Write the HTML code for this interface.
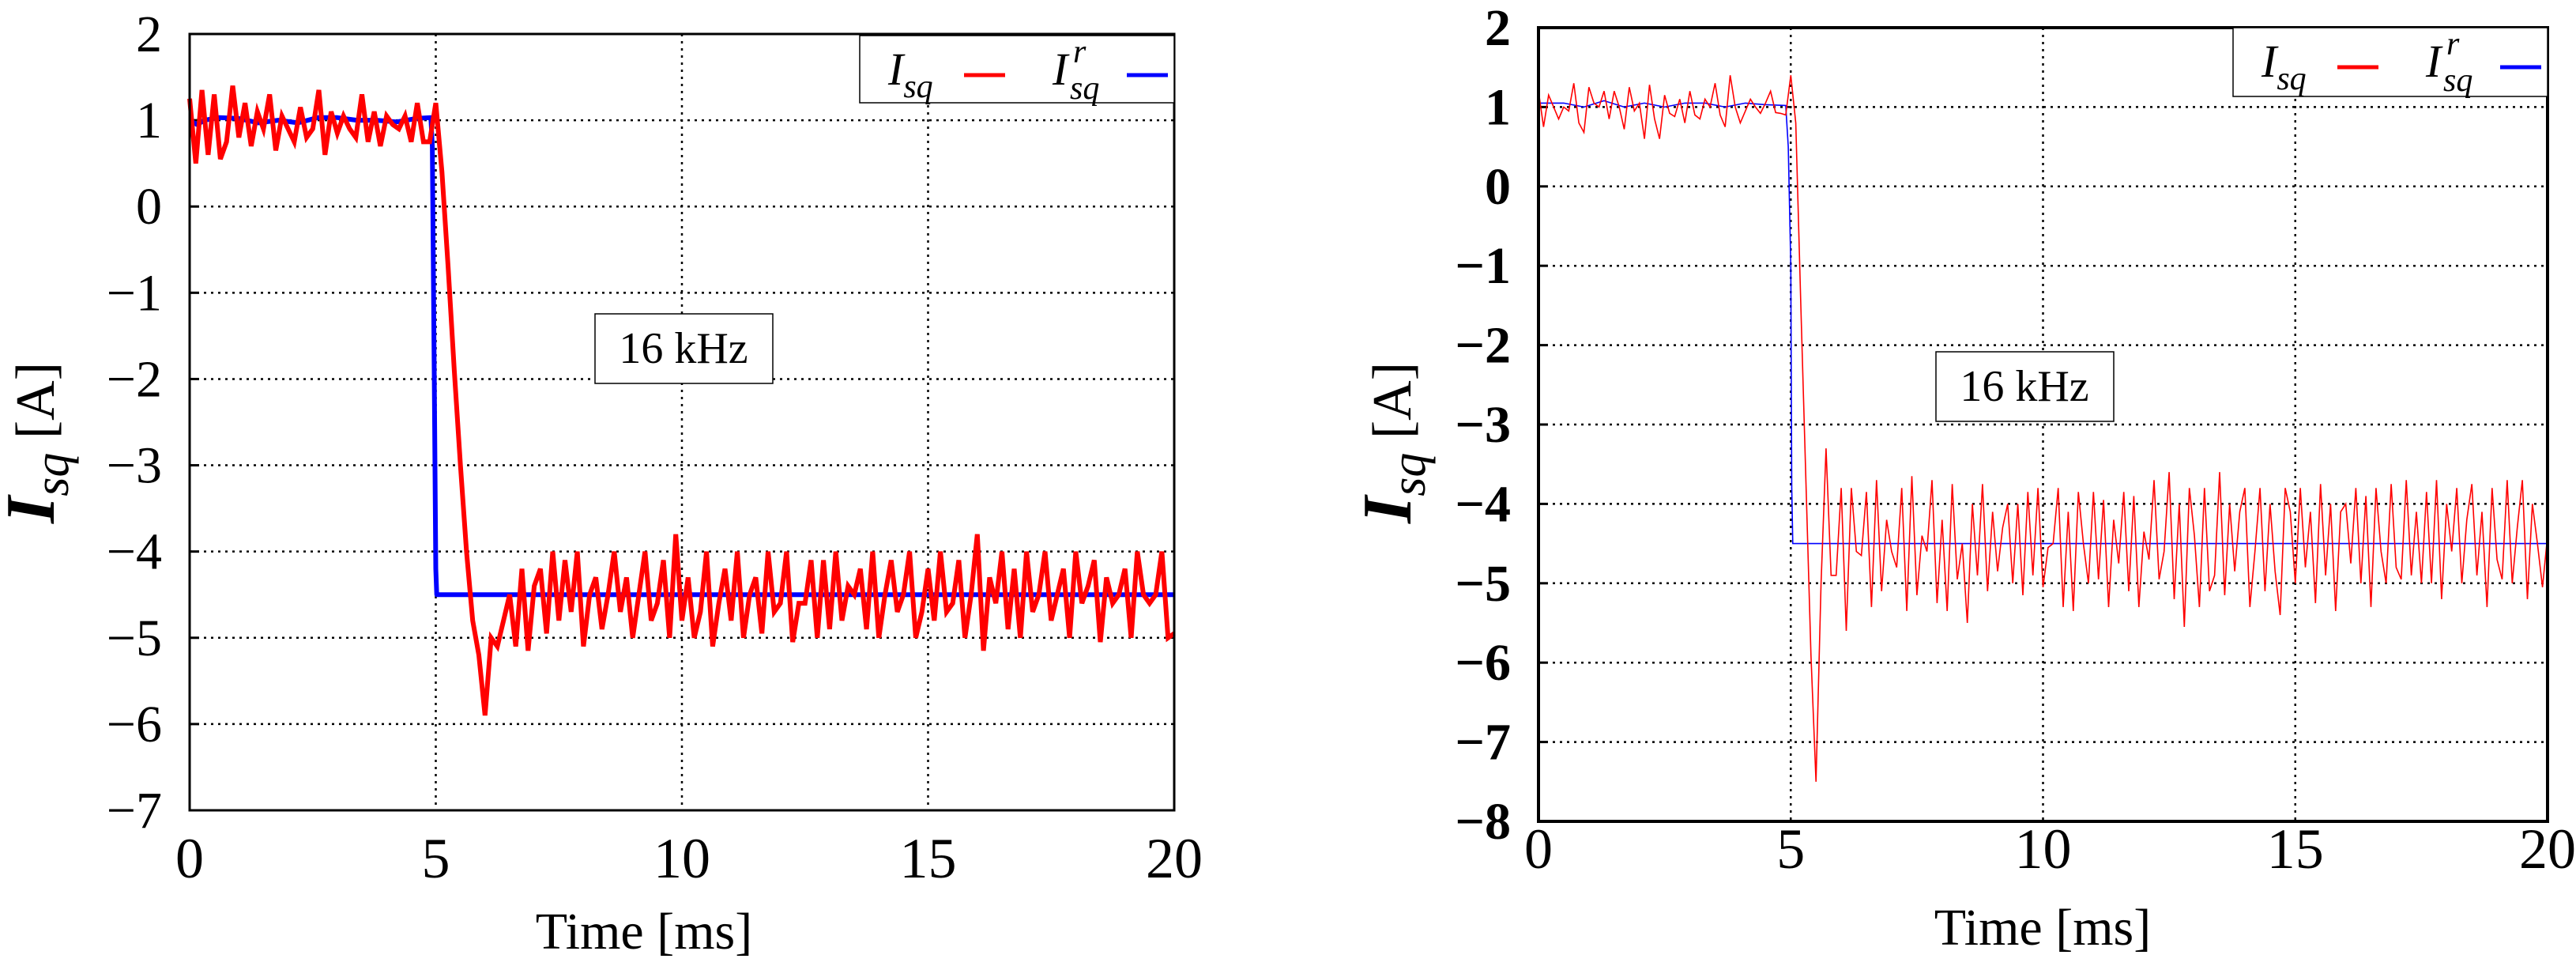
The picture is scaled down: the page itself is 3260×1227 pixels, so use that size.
<!DOCTYPE html>
<html><head><meta charset="utf-8"><style>
html,body{margin:0;padding:0;background:#fff;}
svg{display:block;}
text,tspan{font-family:"Liberation Serif","DejaVu Serif",serif;fill:#000;}
</style></head><body>
<svg id="chart" width="3260" height="1227" viewBox="0 0 3260 1227" xmlns="http://www.w3.org/2000/svg" font-family="Liberation Serif, serif"></svg>
<script>
// ---- Data: left panel (dt = 0.125 ms) ----
const leftDt = 0.125;
const leftRed = [1.25,0.5,1.35,0.6,1.3,0.55,0.75,1.4,0.8,1.2,0.7,1.1,0.9,1.3,0.65,1.05,0.9,0.75,1.15,0.8,0.9,1.35,0.6,1.1,0.85,1.05,0.9,0.8,1.3,0.75,1.1,0.7,1.05,0.95,0.9,1.05,0.75,1.2,0.75,0.75,1.2,
0.4,-0.7,-1.9,-3.0,-4.0,-4.8,-5.2,-5.9,-5.0,-5.1,-4.8,-4.5,-5.1,-4.2,-5.15,-4.4,
-4.2,-4.95,-4.0,-4.8,-4.1,-4.7,-4.0,-5.1,-4.5,-4.3,-4.9,-4.5,-4.0,-4.7,-4.3,-5.0,-4.5,-4.0,-4.8,-4.6,-4.1,-5.0,-3.8,-4.8,-4.3,-5.0,-4.7,-4.0,-5.1,-4.6,-4.2,-4.8,-4.0,-5.0,-4.5,-4.3,-4.95,-4.0,-4.7,-4.6,-4.0,-5.05,-4.6,-4.6,-4.1,-5.0,-4.1,-4.9,-4.0,-4.8,-4.4,-4.5,-4.2,-4.9,-4.0,-5.0,-4.5,-4.1,-4.7,-4.5,-4.0,-5.0,-4.7,-4.2,-4.8,-4.0,-4.7,-4.6,-4.1,-5.0,-4.5,-3.8,-5.15,-4.3,-4.6,-4.0,-4.9,-4.2,-5.0,-4.0,-4.7,-4.5,-4.0,-4.8,-4.5,-4.2,-5.0,-4.0,-4.6,-4.4,-4.1,-5.05,-4.3,-4.6,-4.5,-4.2,-5.0,-4.0,-4.5,-4.6,-4.5,-4.0,-5.0,-4.95];
const leftBlueT = [0,0.15,0.3,0.6,1.0,1.4,1.8,2.2,2.6,3.0,3.4,3.8,4.2,4.6,4.9,4.93,4.97,5.0,5.02,20];
const leftBlueV = [1.0,0.95,1.0,1.03,1.02,0.97,1.0,0.97,1.03,1.03,1.0,1.0,0.98,1.02,1.03,0.7,-2.0,-4.2,-4.5,-4.5];
// ---- Data: right panel (dt = 0.1 ms) ----
const rightDt = 0.1;
const rightRed = [1.2,0.75,1.15,1.0,0.85,1.0,0.95,1.3,0.8,0.68,1.25,1.05,1.0,1.2,0.85,1.2,1.0,0.72,1.25,0.95,1.05,0.6,1.28,0.85,0.6,1.15,0.92,0.88,1.1,0.8,1.2,0.9,0.85,1.1,1.0,1.3,0.9,0.75,1.4,1.0,0.8,0.95,1.1,1.0,0.92,1.05,1.2,0.93,0.92,0.9,1.4,
0.8,-1.5,-3.7,-5.9,-7.5,-5.0,-3.3,-4.9,-4.9,-3.8,-5.6,-3.8,-4.6,-4.65,-3.85,-5.3,-3.7,-5.1,-4.2,-4.6,-4.8,-3.8,-5.35,-3.65,-5.15,-4.4,-4.6,-3.7,-5.25,-4.2,-5.35,-3.75,-4.95,-4.5,-5.5,-4.0,-4.9,-3.75,-5.1,-4.1,-4.85,-4.3,-4.0,-5.0,-4.0,-5.15,-3.85,-4.9,-3.8,-5.05,-4.55,-4.5,-3.8,-5.3,-4.1,-5.35,-3.85,-4.5,-5.0,-3.85,-4.95,-3.95,-5.3,-4.2,-4.75,-3.85,-5.1,-3.9,-5.3,-4.35,-4.7,-3.7,-4.95,-4.6,-3.6,-5.2,-4.0,-5.55,-3.8,-4.4,-5.3,-3.8,-5.1,-4.9,-3.6,-5.15,-4.0,-4.85,-4.1,-3.8,-5.3,-4.6,-3.8,-5.1,-4.0,-4.85,-5.4,-3.8,-4.1,-5.0,-3.8,-4.8,-4.1,-5.25,-3.75,-4.9,-4.0,-5.35,-4.1,-4.0,-4.75,-3.8,-5.0,-3.9,-5.3,-3.8,-4.6,-5.0,-3.75,-4.8,-4.95,-3.7,-4.9,-4.1,-5.0,-3.85,-5.0,-3.7,-5.2,-4.0,-4.6,
-3.8,-5.0,-4.2,-3.75,-4.9,-4.1,-5.3,-3.8,-4.7,-4.95,-3.7,-5.0,-4.3,-3.7,-5.2,-4.0,-4.5,-5.05,-4.4];
const rightBlueT = [0,0.5,0.9,1.3,1.7,2.1,2.5,2.9,3.3,3.7,4.1,4.5,4.9,4.95,5.0,5.02,5.04,20];
const rightBlueV = [1.05,1.05,1.0,1.08,1.0,1.05,1.0,1.05,1.05,1.0,1.05,1.03,1.02,0.5,-1.0,-3.8,-4.5,-4.5];
const xTicks = [0,5,10,15,20];
const leftYTicks = [2,1,0,-1,-2,-3,-4,-5,-6,-7];
const rightYTicks = [2,1,0,-1,-2,-3,-4,-5,-6,-7,-8];

const NS = "http://www.w3.org/2000/svg";
const svg = document.getElementById('chart');
function el(tag, attrs, parent, txt){
  const e = document.createElementNS(NS, tag);
  for (const k in attrs) e.setAttribute(k, attrs[k]);
  if (txt !== undefined) e.textContent = txt;
  (parent || svg).appendChild(e);
  return e;
}
function fmt(v){ return v < 0 ? '\u2212' + Math.abs(v) : String(v); }

function drawPanel(cfg){
  const g = el('g', {});
  
  
  const x = t => cfg.x0 + (t - 0) / 20 * (cfg.x1 - cfg.x0);
  const y = v => cfg.y0 + (cfg.ymax - v) / (cfg.ymax - cfg.ymin) * (cfg.y1 - cfg.y0);
  cfg.yTicks.forEach(v => {
    if (v === cfg.ymax || v === cfg.ymin) return;
    const l = el('line', {x1:cfg.x0, x2:cfg.x1, y1:y(v), y2:y(v), stroke:'#000', 'stroke-width':2.5, 'stroke-dasharray':'3 6'}, g);
    
    
  });
  xTicks.forEach(t => {
    if (t === 0 || t === 20) return;
    const l = el('line', {x1:x(t), x2:x(t), y1:cfg.y0, y2:cfg.y1, stroke:'#000', 'stroke-width':2.5, 'stroke-dasharray':'3 6'}, g);
    
    
  });
  cfg.yTicks.forEach(v => {
    const tk = el('line', {x1:cfg.x0, x2:cfg.x0+12, y1:y(v), y2:y(v), stroke:'#000', 'stroke-width':3}, g);
    
    
    const t = el('text', {x:cfg.ylabX, y:y(v)+22, 'text-anchor':'end', 'font-size':cfg.tickFs, 'font-weight':cfg.yTickW}, g, fmt(v));
    
    
  });
  xTicks.forEach(v => {
    const t = el('text', {x:x(v), y:cfg.xlabY, 'text-anchor':'middle', 'font-size':cfg.tickFs+6}, g, String(v));
    
    
  });
  let d = '';
  cfg.blueT.forEach((t,i) => { d += (i ? 'L' : 'M') + x(t).toFixed(1) + ' ' + y(cfg.blueV[i]).toFixed(1); });
  const pb = el('path', {d:d, fill:'none', stroke:'#0000ff', 'stroke-width':cfg.bw, 'stroke-linejoin':'round'}, g);
  
  
  d = '';
  cfg.red.forEach((v,i) => { d += (i ? 'L' : 'M') + x(i*cfg.dt).toFixed(1) + ' ' + y(v).toFixed(1); });
  const pr = el('path', {d:d, fill:'none', stroke:'#ff0000', 'stroke-width':cfg.rw, 'stroke-linejoin':'miter'}, g);
  
  
  const fr = el('rect', {x:cfg.x0, y:cfg.y0, width:cfg.x1-cfg.x0, height:cfg.y1-cfg.y0, fill:'none', stroke:'#000', 'stroke-width':cfg.fw}, g);
  
  
  const L = cfg.leg;
  const lg = el('g', {}, g);
  
  
  el('rect', {x:L.x, y:L.y, width:L.w, height:L.h, fill:'#fff', stroke:'#000', 'stroke-width':1.5}, lg);
  const t1 = el('text', {x:L.x+36, y:L.y+62, 'font-size':58, 'font-style':'italic'}, lg);
  
  
  el('tspan', {}, t1, 'I');
  el('tspan', {dy:16, 'font-size':42}, t1, 'sq');
  el('line', {x1:L.x+132, x2:L.x+184, y1:L.y+50, y2:L.y+50, stroke:'#ff0000', 'stroke-width':5}, lg);
  const t2 = el('text', {x:L.x+244, y:L.y+62, 'font-size':58, 'font-style':'italic'}, lg);
  
  
  el('tspan', {}, t2, 'I');
  el('tspan', {x:L.x+270, y:L.y+34, 'font-size':42}, t2, 'r');
  el('tspan', {x:L.x+266, y:L.y+80, 'font-size':42}, t2, 'sq');
  el('line', {x1:L.x+338, x2:L.x+390, y1:L.y+50, y2:L.y+50, stroke:'#0000ff', 'stroke-width':5}, lg);
  const A = cfg.ann;
  const ag = el('g', {}, g);
  
  
  el('rect', {x:A.x, y:A.y, width:225, height:88, fill:'#fff', stroke:'#000', 'stroke-width':1.5}, ag);
  el('text', {x:A.x+112, y:A.y+62, 'text-anchor':'middle', 'font-size':56}, ag, '16 kHz');
  const yt = el('text', {transform:`translate(${cfg.ytX},${cfg.ytY}) rotate(-90)`, 'text-anchor':'middle', 'font-size':70}, g);
  
  
  el('tspan', {'font-style':'italic', 'font-weight':'bold', 'font-size':88}, yt, 'I');
  el('tspan', {'font-style':'italic', 'font-size':62, dy:18}, yt, 'sq');
  el('tspan', {dy:-18}, yt, ' [A]');
  const xt = el('text', {x:cfg.xtX, y:cfg.xtY, 'text-anchor':'middle', 'font-size':66}, g, 'Time [ms]');
  
  
}

drawPanel({name:'left-panel', x0:240, x1:1486, y0:43, y1:1025, ymax:2, ymin:-7, yTicks:leftYTicks,
  red:leftRed, dt:leftDt, blueT:leftBlueT, blueV:leftBlueV, rw:6, bw:6, fw:3,
  ylabX:205, xlabY:1110, tickFs:66, yTickW:'normal',
  leg:{x:1088, y:45, w:398, h:85}, ann:{x:753, y:397},
  ytX:68, ytY:560, xtX:815, xtY:1200});
drawPanel({name:'right-panel', x0:1947, x1:3224, y0:35, y1:1039, ymax:2, ymin:-8, yTicks:rightYTicks,
  red:rightRed, dt:rightDt, blueT:rightBlueT, blueV:rightBlueV, rw:1.6, bw:1.6, fw:4,
  ylabX:1912, xlabY:1098, tickFs:66, yTickW:'bold',
  leg:{x:2826, y:35, w:398, h:87}, ann:{x:2450, y:445},
  ytX:1785, ytY:560, xtX:2585, xtY:1195});
</script>
</body></html>
